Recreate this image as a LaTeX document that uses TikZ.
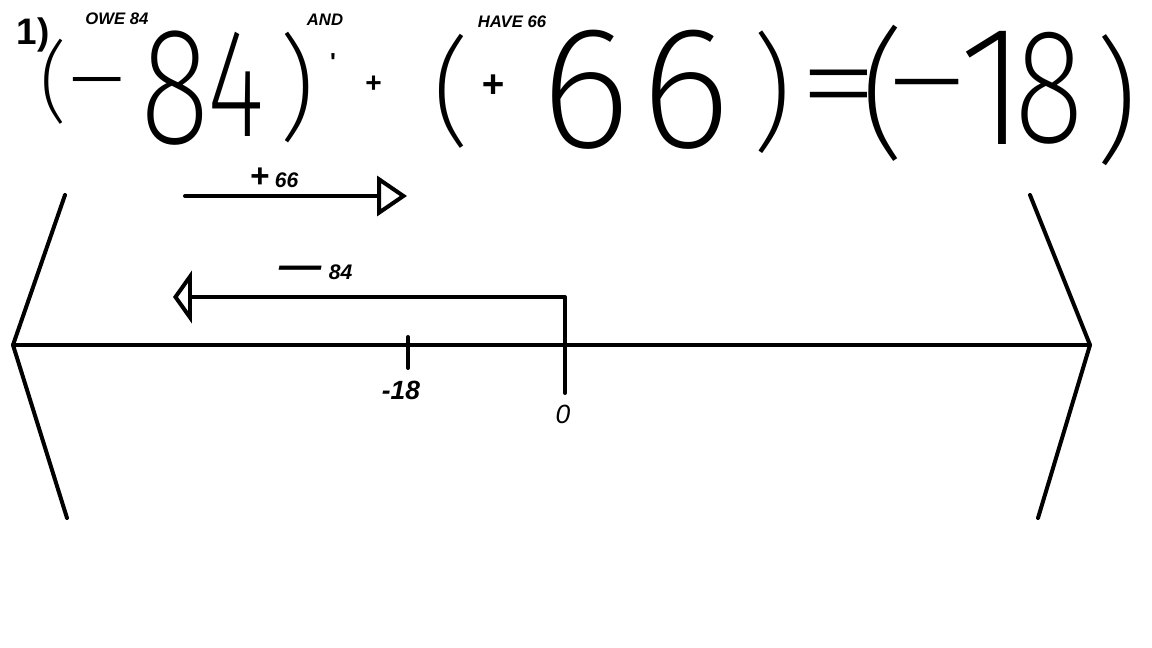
\documentclass[tikz,border=0pt]{standalone}
\usepackage{fontspec}
\setmainfont{Liberation Sans}
\IfFontExistsTF{Fira Sans ExtraLight}{\newfontfamily\handfont{Fira Sans ExtraLight}}{%
  \IfFontExistsTF{Fira Sans Light}{\newfontfamily\handfont{Fira Sans Light}}{\newfontfamily\handfont{Fira Sans}}}
\usepackage{tikz}
\usetikzlibrary{arrows.meta, positioning}

\begin{document}
\begin{tikzpicture}[
    x=0.02cm, y=-0.02cm, % one unit = one pixel of the sketch
    big/.style={inner sep=0pt, font=\handfont\fontsize{#1}{#1}\selectfont},
    note/.style={inner sep=0pt, font=\fontsize{#1}{#1}\selectfont\bfseries\itshape},
    pen/.style={draw, line width=0.08cm, line cap=round, line join=round},
    headA/.style={-{Triangle[open, length=0.6cm, width=0.8cm]}},
    headB/.style={-{Triangle[open, length=0.38cm, width=1.05cm]}}
]
    \useasboundingbox (0,0) rectangle (1152,648);

    % Equation - hand written
    \node [note=20, font=\fontsize{21}{21}\selectfont\bfseries] (num) at (33,35) {1)};
    \node [big=50] (lparA) at (54,82) {(};
    \node [big=55] (minusA) at (97,94) {\scalebox{1.42}[1]{−}};
    \node [big=95] (eightA) at (175,88) {\scalebox{0.78}[1]{8}};
    \node [big=88] (fourA) at (236,84) {\scalebox{0.72}[1]{4}};
    \node [big=65] (rparA) at (297,88) {)};
    \node [note=14, font=\fontsize{14}{14}\selectfont\bfseries] (tick) at (333,62) {\textquotesingle};
    \node [note=16] (plusA) at (373,84) {+};
    \node [big=67] (lparB) at (452,91) {(};
    \node [note=22] (plusB) at (493,86) {+};
    \node [big=99] (sixA) at (586,90) {6};
    \node [big=99] (sixB) at (686,90) {6};
    \node [big=72] (rparB) at (772,92) {)};
    \node [big=75] (equal) at (839,99) {\scalebox{1.25}[1]{=}};
    \node [big=80] (lparC) at (883,93) {(};
    \node [big=73] (minusC) at (927,102) {\scalebox{1.42}[1]{−}};
    \node [big=97] (oneC) at (993,88) {1};
    \node [big=93] (eightC) at (1049,88) {\scalebox{0.8}[1]{8}};
    \node [big=77] (rparC) at (1116,100) {)};

    % Notes above the equation
    \node [note=9.5] (owe) at (117,19) {OWE 84};
    \node [note=9.5] (and) at (325,20) {AND};
    \node [note=9.5] (have) at (512,22) {HAVE 66};

    % Number line
    \coordinate (lineL) at (13,345);
    \coordinate (lineR) at (1090,345);
    \draw [pen] (65,195) -- (lineL) -- (67,518);
    \draw [pen] (1030,195) -- (lineR) -- (1038,518);
    \draw [pen] (lineL) -- (lineR);

    % Marks on the line
    \coordinate (m18) at (408,337);
    \coordinate (zero) at (565,393);
    \draw [pen] (m18) -- ++(0,31);
    \node [note=15] (m18lbl) at (401,390) {-18};
    \node [note=15, font=\fontsize{15}{15}\selectfont\itshape] (zerolbl) at (563,414) {0};

    % Moves
    \coordinate (startA) at (185,196);
    \coordinate (endA) at (407,196);
    \draw [pen, headA] (startA) -- (endA);
    \node [note=12] (plus66) at (274,178) {{\fontsize{19}{19}\selectfont +}\;66};

    \coordinate (endB) at (173,297);
    \draw [pen, headB] (zero) |- (endB);
    \node [note=12] (minus84) at (316,272) {{\fontsize{24}{24}\selectfont —}\,\,84};
\end{tikzpicture}
\end{document}
